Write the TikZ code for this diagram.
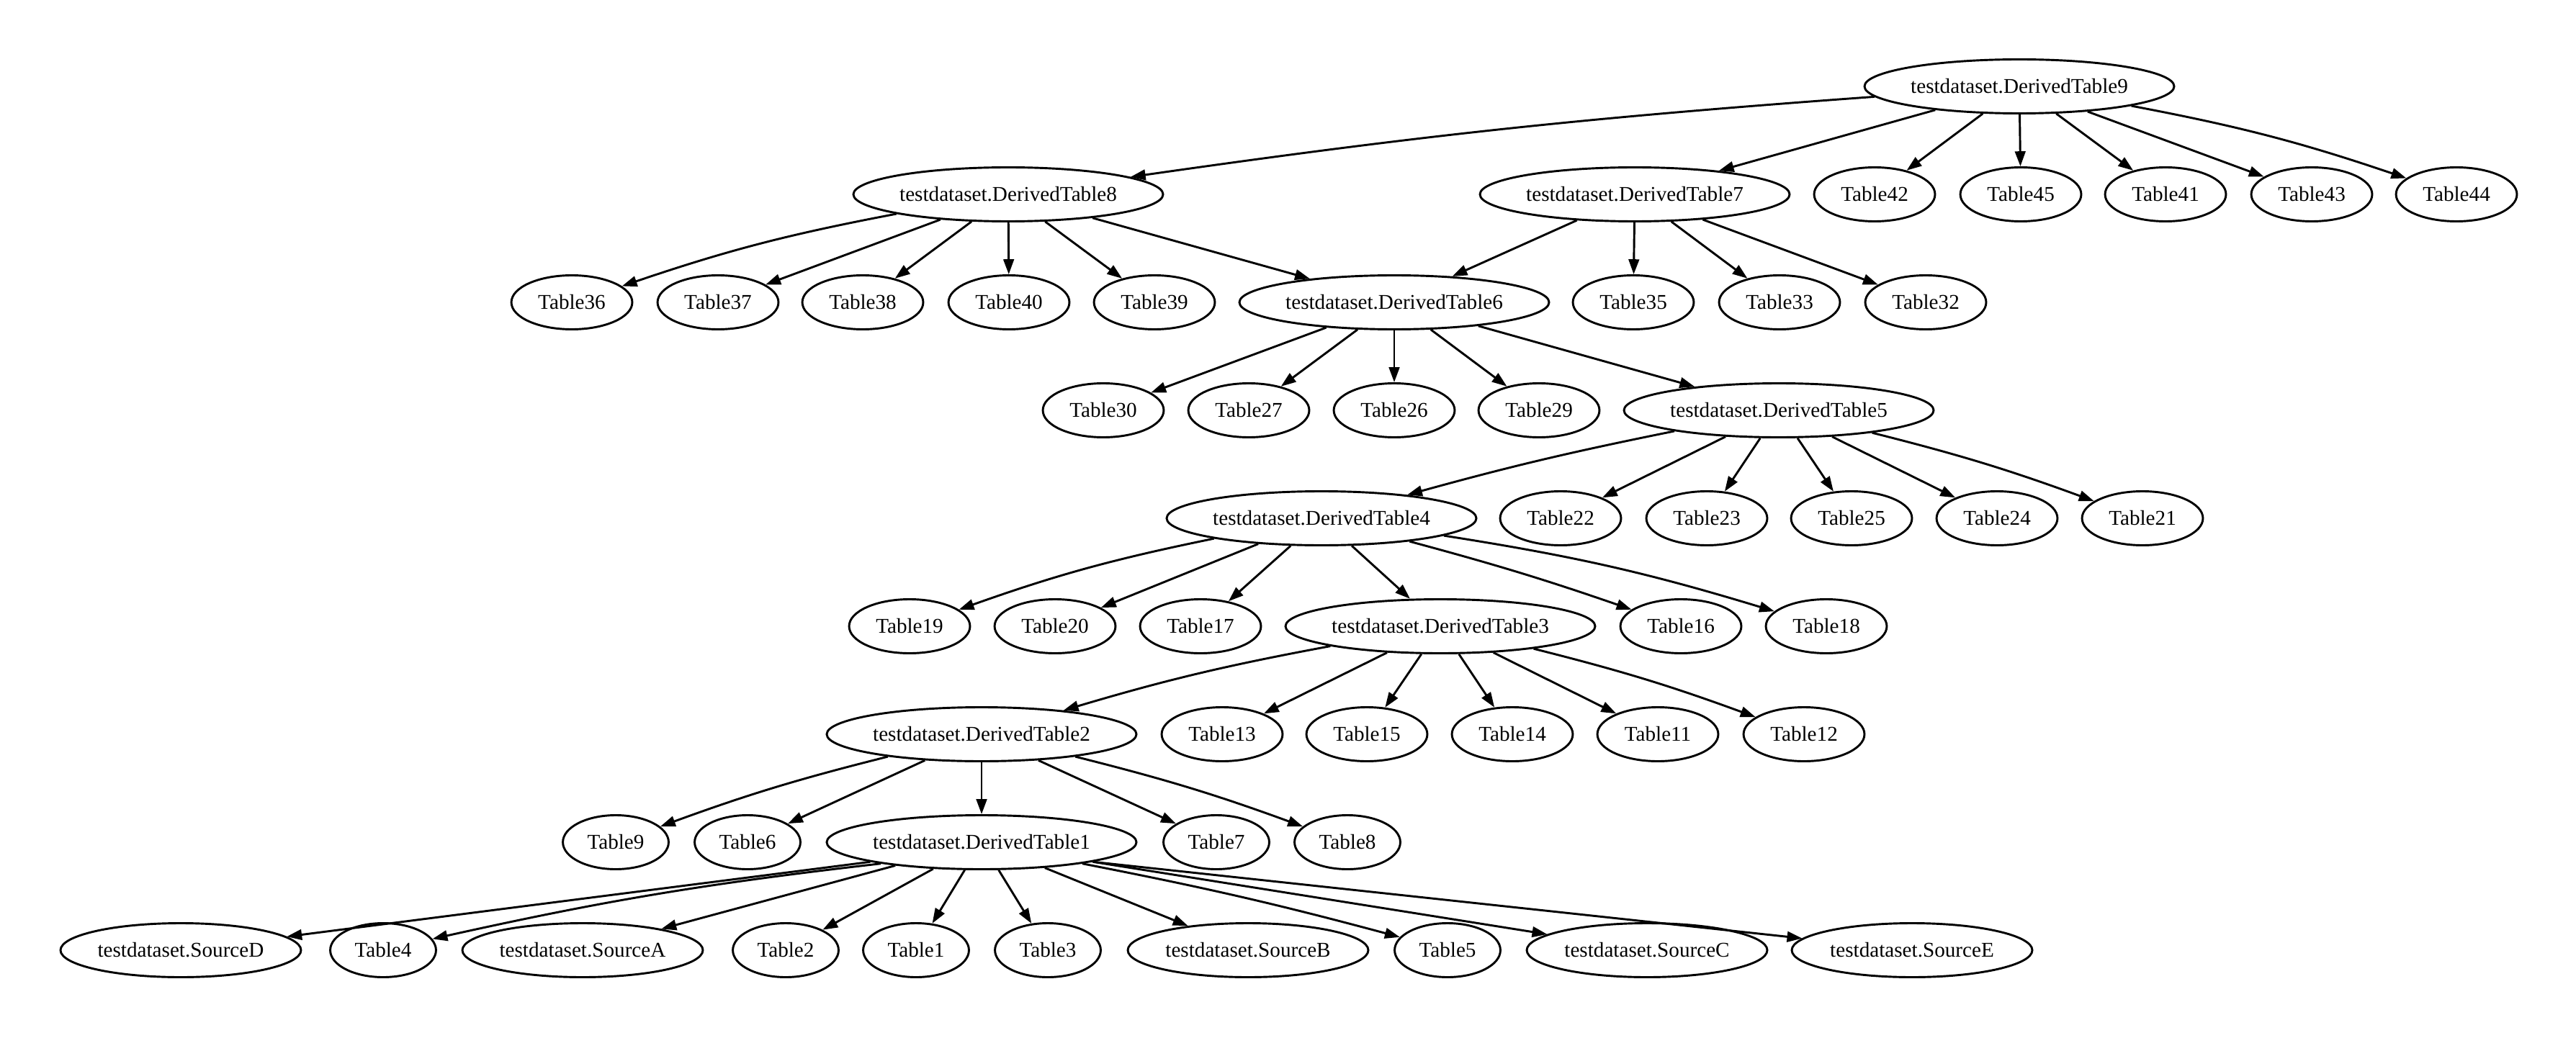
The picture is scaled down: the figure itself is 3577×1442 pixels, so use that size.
\documentclass[tikz,border=0pt]{standalone}
\usepackage{fontspec}
\setmainfont{Liberation Serif}
\usetikzlibrary{shapes.geometric,arrows.meta}
\tikzset{
  nd/.style={draw, ellipse, line width=1.4bp, inner sep=0pt, minimum height=36bp,
             font=\fontsize{14bp}{16bp}\selectfont},
  big/.style={nd, minimum width=206.4bp},
  src/.style={nd, minimum width=160.3bp},
  tt/.style={nd, minimum width=80.6bp},
  ts/.style={nd, minimum width=70.5bp},
  edge/.style={line width=1.4bp, -{Triangle[length=10bp,width=7bp]}}
}
\begin{document}
\begin{tikzpicture}[x=0.48bp,y=-0.48bp]
\useasboundingbox (0,0) rectangle (3577,1442);
% row 0
\node[big] (d9) at (2804,120) {testdataset.DerivedTable9};
% row 1
\node[big] (d8) at (1400,270) {testdataset.DerivedTable8};
\node[big] (d7) at (2270,270) {testdataset.DerivedTable7};
\node[tt] (t42) at (2603,270) {Table42};
\node[tt] (t45) at (2806,270) {Table45};
\node[tt] (t41) at (3007,270) {Table41};
\node[tt] (t43) at (3210,270) {Table43};
\node[tt] (t44) at (3411,270) {Table44};
% row 2
\node[tt] (t36) at (794,420) {Table36};
\node[tt] (t37) at (997,420) {Table37};
\node[tt] (t38) at (1198,420) {Table38};
\node[tt] (t40) at (1401,420) {Table40};
\node[tt] (t39) at (1603,420) {Table39};
\node[big] (d6) at (1936,420) {testdataset.DerivedTable6};
\node[tt] (t35) at (2268,420) {Table35};
\node[tt] (t33) at (2471,420) {Table33};
\node[tt] (t32) at (2674,420) {Table32};
% row 3
\node[tt] (t30) at (1532,570) {Table30};
\node[tt] (t27) at (1734,570) {Table27};
\node[tt] (t26) at (1936,570) {Table26};
\node[tt] (t29) at (2137,570) {Table29};
\node[big] (d5) at (2470,570) {testdataset.DerivedTable5};
% row 4
\node[big] (d4) at (1835,720) {testdataset.DerivedTable4};
\node[tt] (t22) at (2167,720) {Table22};
\node[tt] (t23) at (2370,720) {Table23};
\node[tt] (t25) at (2571,720) {Table25};
\node[tt] (t24) at (2773,720) {Table24};
\node[tt] (t21) at (2975,720) {Table21};
% row 5
\node[tt] (t19) at (1263,870) {Table19};
\node[tt] (t20) at (1465,870) {Table20};
\node[tt] (t17) at (1667,870) {Table17};
\node[big] (d3) at (2000,870) {testdataset.DerivedTable3};
\node[tt] (t16) at (2334,870) {Table16};
\node[tt] (t18) at (2536,870) {Table18};
% row 6
\node[big] (d2) at (1363,1020) {testdataset.DerivedTable2};
\node[tt] (t13) at (1697,1020) {Table13};
\node[tt] (t15) at (1898,1020) {Table15};
\node[tt] (t14) at (2100,1020) {Table14};
\node[tt] (t11) at (2302,1020) {Table11};
\node[tt] (t12) at (2505,1020) {Table12};
% row 7
\node[ts] (t9) at (855,1170) {Table9};
\node[ts] (t6) at (1038,1170) {Table6};
\node[big] (d1) at (1363,1170) {testdataset.DerivedTable1};
\node[ts] (t7) at (1689,1170) {Table7};
\node[ts] (t8) at (1871,1170) {Table8};
% row 8
\node[src] (sD) at (251,1320) {testdataset.SourceD};
\node[ts] (t4) at (532,1320) {Table4};
\node[src] (sA) at (809,1320) {testdataset.SourceA};
\node[ts] (t2) at (1091,1320) {Table2};
\node[ts] (t1) at (1272,1320) {Table1};
\node[ts] (t3) at (1455,1320) {Table3};
\node[src] (sB) at (1733,1320) {testdataset.SourceB};
\node[ts] (t5) at (2010,1320) {Table5};
\node[src] (sC) at (2287,1320) {testdataset.SourceC};
\node[src] (sE) at (2655,1320) {testdataset.SourceE};
% edges
\draw[edge] (d9) to[bend right=2] (d8);
\draw[edge] (d9) -- (d7);
\draw[edge] (d9) -- (t42);
\draw[edge] (d9) -- (t45);
\draw[edge] (d9) -- (t41);
\draw[edge] (d9) -- (t43);
\draw[edge] (d9) to[bend left=4] (t44);
\draw[edge] (d8) to[bend right=4] (t36);
\draw[edge] (d8) -- (t37);
\draw[edge] (d8) -- (t38);
\draw[edge] (d8) -- (t40);
\draw[edge] (d8) -- (t39);
\draw[edge] (d8) -- (d6);
\draw[edge] (d7) -- (d6);
\draw[edge] (d7) -- (t35);
\draw[edge] (d7) -- (t33);
\draw[edge] (d7) -- (t32);
\draw[edge] (d6) -- (t30);
\draw[edge] (d6) -- (t27);
\draw[edge] (d6) -- (t26);
\draw[edge] (d6) -- (t29);
\draw[edge] (d6) -- (d5);
\draw[edge] (d5) to[bend right=2] (d4);
\draw[edge] (d5) -- (t22);
\draw[edge] (d5) -- (t23);
\draw[edge] (d5) -- (t25);
\draw[edge] (d5) -- (t24);
\draw[edge] (d5) to[bend left=3] (t21);
\draw[edge] (d4) to[bend right=4] (t19);
\draw[edge] (d4) -- (t20);
\draw[edge] (d4) -- (t17);
\draw[edge] (d4) -- (d3);
\draw[edge] (d4) to[bend left=2] (t16);
\draw[edge] (d4) to[bend left=4] (t18);
\draw[edge] (d3) to[bend right=3] (d2);
\draw[edge] (d3) -- (t13);
\draw[edge] (d3) -- (t15);
\draw[edge] (d3) -- (t14);
\draw[edge] (d3) -- (t11);
\draw[edge] (d3) to[bend left=3] (t12);
\draw[edge] (d2) to[bend right=3] (t9);
\draw[edge] (d2) -- (t6);
\draw[edge] (d2) -- (d1);
\draw[edge] (d2) -- (t7);
\draw[edge] (d2) to[bend left=3] (t8);
\draw[edge] (d1.190) -- (sD);
\draw[edge] (d1.192) to[bend right=3] (t4);
\draw[edge] (d1) -- (sA);
\draw[edge] (d1) -- (t2);
\draw[edge] (d1) -- (t1);
\draw[edge] (d1) -- (t3);
\draw[edge] (d1) -- (sB);
\draw[edge] (d1.348) to[bend left=2] (t5);
\draw[edge] (d1.350) -- (sC);
\draw[edge] (d1.350) -- (sE);
\end{tikzpicture}
\end{document}
